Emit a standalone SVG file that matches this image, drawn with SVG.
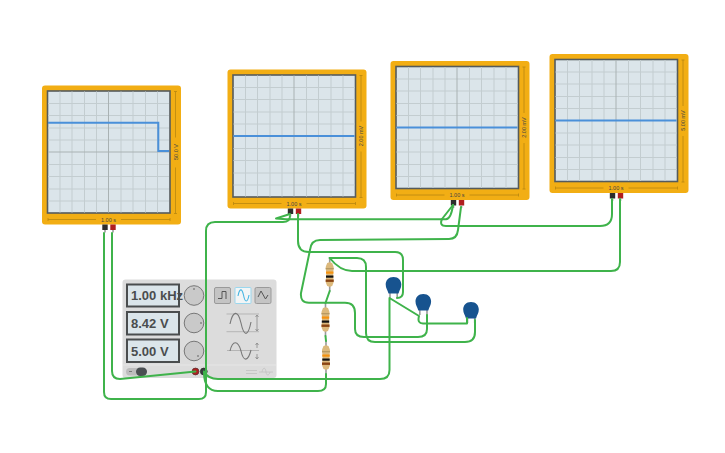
<svg xmlns="http://www.w3.org/2000/svg" xmlns:xlink="http://www.w3.org/1999/xlink" width="725" height="453" viewBox="0 0 725 453">
<style>
text{font-family:"Liberation Sans",Arial,sans-serif}
.wire{fill:none;stroke:#3fb34b;stroke-width:2;stroke-linecap:round;stroke-linejoin:round}
.trace{fill:none;stroke:#4a90d9;stroke-width:2}
.grid{stroke:#c3cdd0;stroke-width:1;fill:none}
.mid{stroke:#a9b2b3;stroke-width:1;fill:none}
.axis{stroke:#b8860f;stroke-width:.8;fill:none}
.lbl{font-size:5.5px;fill:#444;text-anchor:middle}
.disp{fill:#dbe5ea;stroke:#4a4d4e;stroke-width:2}
.dtxt{font-size:13px;font-weight:bold;fill:#4a4d4e}
.knob{fill:#c9c9c9;stroke:#777;stroke-width:1}
.btn{fill:#c4c4c4;stroke:#9a9a9a;stroke-width:1}
.ico{fill:none;stroke:#777;stroke-width:1.1}
.ln{fill:none;stroke:#b5b5b5;stroke-width:1}
.lead{stroke:#9a9a9a;stroke-width:1.6;fill:none}
.cap{fill:#17538f}
</style>
<defs>
<g id="scope">
<rect x="0" y="0" width="139" height="139" rx="3" fill="#f2ae14"/>
<rect x="5.5" y="5.5" width="122.5" height="122" fill="#dbe5ea" stroke="#555b5c" stroke-width="1.6"/>
<path class="grid" d="M18 6V127M30 6V127M42.500 6V127M54.500 6V127M79 6V127M91 6V127M103.500 6V127M115.500 6V127M6 18H127M6 30H127M6 42.500H127M6 54.500H127M6 79H127M6 91H127M6 103.500H127M6 115.500H127"/>
<path class="mid" d="M66.500 6V127M6 66.500H127"/>
<path class="axis" d="M6 134H54M79 134H128M6 132.500V135.500M128 132.500V135.500M133.500 6V52M133.500 82V128M132 6H135M132 128H135"/>
<rect x="60.300" y="139" width="5.400" height="5.500" fill="#2d2d2d"/>
<rect x="68.300" y="139" width="5.400" height="5.500" fill="#b01f1f"/>
<path class="lead" d="M63 144.500V147M71 144.500V147"/>
</g>
<g id="res">
<path class="lead" d="M0 -17V-11M0 11V17"/>
<path d="M-2.500 -11.500C0 -12.500 0 -12.500 2.500 -11.500C3.500 -9 4.200 -8 4 -6C3.500 -3 3.300 3 4 6C4.200 8 3.500 9 2.500 11.500C0 12.500 0 12.500 -2.500 11.500C-3.500 9 -4.200 8 -4 6C-3.300 3 -3.300 -3 -4 -6C-4.200 -8 -3.500 -9 -2.500 -11.500Z" fill="#dcb97c"/>
<rect x="-4" y="-6.500" width="8" height="1.300" fill="#b79a63"/>
<rect x="-3.700" y="-3" width="7.400" height="2.200" fill="#f5920f"/>
<rect x="-3.700" y="1" width="7.400" height="2.200" fill="#111"/>
<rect x="-4" y="5" width="8" height="2.400" fill="#8a4413"/>
</g>
<g id="capb">
<path class="lead" d="M-3.500 6V13M3.700 6V13"/>
<path class="cap" d="M0 -8C-5 -8 -7.800 -4.500 -7.800 -.5C-7.800 3 -6 5 -5 8.500H5C6 5 7.800 3 7.800 -.5C7.800 -4.500 5 -8 0 -8Z"/>
</g>
</defs>

<g id="scope1" transform="translate(42 85.500)">
<use href="#scope"/>
<path class="trace" d="M6 37.200H116.300V65.500H127"/>
<text class="lbl" x="66.500" y="136">1.00 s</text>
<text class="lbl" transform="translate(135.500 66.500) rotate(-90)">50.0 V</text>
</g>
<g id="scope2" transform="translate(227.500 69.500)">
<use href="#scope"/>
<path class="trace" d="M6 66.500H127"/>
<text class="lbl" x="66.500" y="136">1.00 s</text>
<text class="lbl" transform="translate(135.500 66.500) rotate(-90)">2.00 mV</text>
</g>
<g id="scope3" transform="translate(390.500 61)">
<use href="#scope"/>
<path class="trace" d="M6 66.500H127"/>
<text class="lbl" x="66.500" y="136">1.00 s</text>
<text class="lbl" transform="translate(135.500 66.500) rotate(-90)">2.00 mV</text>
</g>
<g id="scope4" transform="translate(549.500 54)">
<use href="#scope"/>
<path class="trace" d="M6 66.500H127"/>
<text class="lbl" x="66.500" y="136">1.00 s</text>
<text class="lbl" transform="translate(135.500 66.500) rotate(-90)">5.00 mV</text>
</g>

<g id="generator">
<rect x="122.500" y="279.500" width="154" height="98.500" rx="3" fill="#dcdcdc"/>
<path d="M123 365H276" stroke="#e6e6e6" stroke-width="1" fill="none"/>
<rect class="disp" x="127" y="284.500" width="52" height="22"/>
<rect class="disp" x="127" y="312" width="52" height="22.500"/>
<rect class="disp" x="127" y="339.500" width="52" height="22.500"/>
<text class="dtxt" x="131" y="300">1.00 kHz</text>
<text class="dtxt" x="131" y="327.500">8.42 V</text>
<text class="dtxt" x="131" y="355.500">5.00 V</text>
<circle class="knob" cx="194" cy="295.500" r="9.800"/>
<circle class="knob" cx="194" cy="323" r="9.800"/>
<circle class="knob" cx="194" cy="351" r="9.800"/>
<circle cx="194" cy="289" r=".8" fill="#555"/>
<circle cx="201" cy="323" r=".8" fill="#555"/>
<circle cx="198" cy="356" r=".8" fill="#555"/>
<rect class="btn" x="214.500" y="287.500" width="16" height="16" rx="1.500"/>
<rect x="235" y="287.500" width="16" height="16" rx="1" fill="#f2f5f6" stroke="#9bd7ee" stroke-width="1"/>
<rect class="btn" x="255" y="287.500" width="16" height="16" rx="1.500"/>
<path fill="none" stroke="#555" stroke-width="1" d="M218 298.500H222V291.500H226V299"/>
<path fill="none" stroke="#46b5e2" stroke-width="1.100" d="M238 296C239.500 288 242 288 243.500 295C245 303 247.500 303 249 295"/>
<path fill="none" stroke="#555" stroke-width="1" d="M258 297L261 291L265.500 299L268 295"/>
<path class="ln" d="M226.500 314H259M226.500 331.700H259M227 350.500H259"/>
<path class="ico" d="M230 324C233 310 238 310 241 323C244 337 248 337 251 322"/>
<path class="ico" d="M230 351C232.500 340 238 340 241 351C243.500 362 248 362 251 350"/>
<path d="M257 315V331M255.500 317L257 315L258.500 317M255.500 329L257 331L258.500 329" fill="none" stroke="#888" stroke-width=".8"/>
<path d="M257 343V348M257 354V359M255.500 345L257 343L258.500 345M255.500 357L257 359L258.500 357" fill="none" stroke="#888" stroke-width=".8"/>
<rect x="126" y="368" width="20.500" height="7.500" rx="3.700" fill="#bdbdbd"/>
<rect x="136" y="367.500" width="11" height="8.500" rx="4.200" fill="#4a4f52"/>
<path d="M129 371.500H132" stroke="#666" stroke-width=".8"/>
<path d="M246 370.500H257M246 373.500H257" stroke="#c6c6c6" stroke-width="1"/>
<path d="M259 372H273M262 372C263 367 265.500 367 266 372C266.500 376 269 376 270 372" fill="none" stroke="#c2c2c2" stroke-width=".8"/>
<circle cx="195.500" cy="371.500" r="3.400" fill="#b01f1f" stroke="#5a3030" stroke-width=".8"/>
<circle cx="203.800" cy="371.500" r="3.400" fill="#3a3f40" stroke="#2d2d2d" stroke-width=".8"/>
</g>

<use id="r1" href="#res" x="329.700" y="274.500"/>
<use id="r2" href="#res" x="325.500" y="319.500"/>
<use id="r3" href="#res" x="326" y="357.500"/>
<use id="c1" href="#capb" x="393.500" y="285"/>
<use id="c2" href="#capb" x="423.300" y="302"/>
<use id="c3" href="#capb" x="471" y="310"/>

<g id="connectors">
<path class="wire" d="M104 233V392Q104 399 111 399H199Q206 399 206 392V231Q206 222 215 222H283Q290 222 290 216"/>
<path class="wire" d="M290 214L276 218.500L286 219.300H446Q451 219 453 205"/>
<path class="wire" d="M453 205L442 219Q439 226 446 226H600Q612 226 612 214V199"/>
<path class="wire" d="M112 233V371Q112 379 120 379L195.500 371.500"/>
<path class="wire" d="M204 371.500Q208 379 218 379H380Q389.500 379 389.500 370V298L419 316Q417 323.500 423 323.500H467V318"/>
<path class="wire" d="M204 372Q204 391 218 391H318Q326 391 326 384V374"/>
<path class="wire" d="M298 214V241Q298 252 309 252H395Q403 252 403 260V292Q403 298 397 298"/>
<path class="wire" d="M461 207L458 230Q457 239 449 239L320 240Q311 240 310 250L301 293Q300 302.700 309 302.700H345Q355 302.700 355 313V329Q355 337 364 337H418Q427 337 427 329V315"/>
<path class="wire" d="M329.700 258H357Q366 258 366 267V333Q366 342 375 342H465Q475 342 475 332V320"/>
<path class="wire" d="M329.700 258Q340 271 352 271H611Q620 271 620 262V199"/>
<path class="wire" d="M329.700 291L325.500 303M325.500 336L326 341"/>
</g>
</svg>
